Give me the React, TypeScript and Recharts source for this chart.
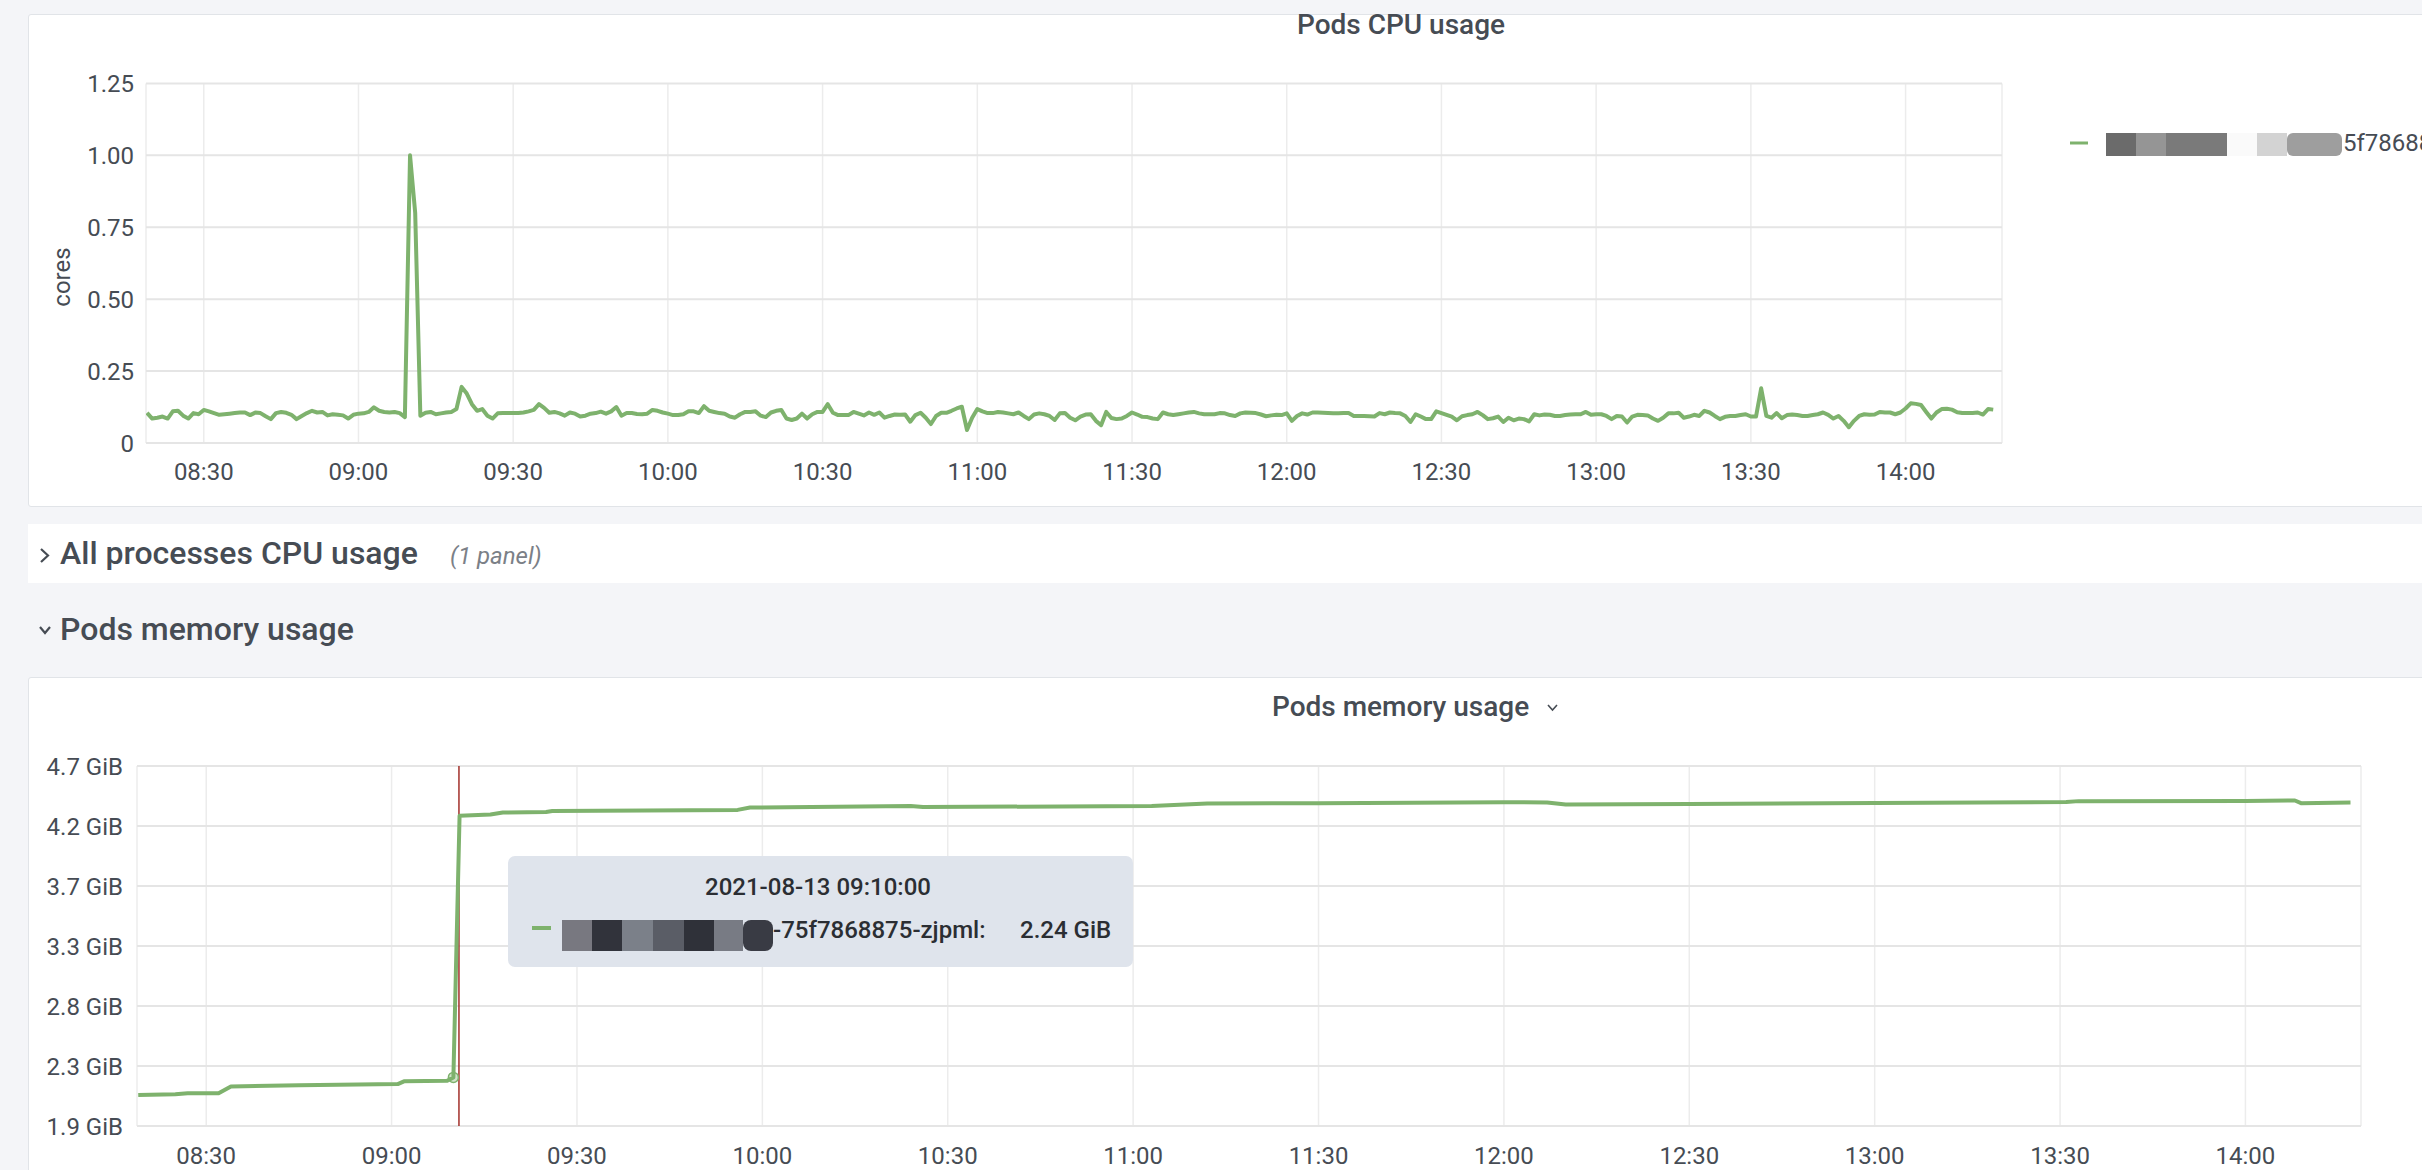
import React from 'react';
import { LineChart, Line, XAxis, YAxis, CartesianGrid, ReferenceLine, ReferenceDot } from 'recharts';

// ---------- data ----------
const cpuStartTime = '08:19'; // one sample per minute from here
const cpuCores = [
  0.105, 0.085, 0.088, 0.092, 0.085, 0.110, 0.112, 0.095, 0.085, 0.104,
  0.100, 0.115, 0.110, 0.104, 0.098, 0.100, 0.102, 0.104, 0.106, 0.106,
  0.097, 0.106, 0.104, 0.093, 0.083, 0.104, 0.108, 0.105, 0.098, 0.083,
  0.094, 0.104, 0.112, 0.106, 0.108, 0.096, 0.100, 0.098, 0.096, 0.085,
  0.098, 0.102, 0.103, 0.108, 0.124, 0.112, 0.108, 0.106, 0.108, 0.104,
  0.090, 1.000, 0.800, 0.095, 0.105, 0.108, 0.100, 0.103, 0.106, 0.108,
  0.118, 0.195, 0.172, 0.135, 0.112, 0.118, 0.095, 0.085, 0.103, 0.104,
  0.104, 0.104, 0.104, 0.106, 0.110, 0.115, 0.135, 0.122, 0.105, 0.108,
  0.103, 0.095, 0.106, 0.102, 0.092, 0.095, 0.102, 0.104, 0.109, 0.102,
  0.110, 0.125, 0.095, 0.104, 0.104, 0.101, 0.100, 0.102, 0.115, 0.112,
  0.106, 0.102, 0.097, 0.097, 0.100, 0.110, 0.110, 0.104, 0.128, 0.112,
  0.108, 0.104, 0.102, 0.092, 0.088, 0.100, 0.108, 0.108, 0.110, 0.095,
  0.090, 0.106, 0.112, 0.115, 0.085, 0.080, 0.085, 0.102, 0.085, 0.100,
  0.108, 0.108, 0.135, 0.105, 0.097, 0.097, 0.097, 0.108, 0.102, 0.096,
  0.106, 0.098, 0.106, 0.088, 0.094, 0.099, 0.098, 0.099, 0.074, 0.097,
  0.105, 0.088, 0.066, 0.094, 0.105, 0.105, 0.112, 0.120, 0.126, 0.045,
  0.088, 0.118, 0.110, 0.104, 0.104, 0.108, 0.106, 0.103, 0.100, 0.106,
  0.094, 0.083, 0.099, 0.103, 0.100, 0.094, 0.080, 0.103, 0.104, 0.088,
  0.079, 0.092, 0.099, 0.100, 0.077, 0.062, 0.108, 0.087, 0.083, 0.085,
  0.094, 0.106, 0.099, 0.091, 0.090, 0.085, 0.083, 0.106, 0.100, 0.097,
  0.100, 0.103, 0.106, 0.108, 0.103, 0.100, 0.100, 0.100, 0.104, 0.103,
  0.097, 0.094, 0.103, 0.106, 0.105, 0.104, 0.099, 0.093, 0.096, 0.098,
  0.097, 0.103, 0.077, 0.094, 0.103, 0.099, 0.106, 0.106, 0.105, 0.104,
  0.103, 0.103, 0.104, 0.104, 0.094, 0.094, 0.094, 0.093, 0.092, 0.104,
  0.100, 0.106, 0.104, 0.103, 0.094, 0.073, 0.100, 0.092, 0.083, 0.083,
  0.110, 0.104, 0.098, 0.092, 0.079, 0.093, 0.097, 0.100, 0.108, 0.097,
  0.083, 0.086, 0.092, 0.073, 0.088, 0.079, 0.085, 0.083, 0.075, 0.100,
  0.096, 0.099, 0.098, 0.094, 0.094, 0.097, 0.099, 0.100, 0.100, 0.108,
  0.098, 0.100, 0.100, 0.094, 0.083, 0.094, 0.092, 0.071, 0.092, 0.098,
  0.097, 0.096, 0.085, 0.077, 0.088, 0.103, 0.103, 0.105, 0.088, 0.092,
  0.098, 0.094, 0.112, 0.106, 0.094, 0.083, 0.091, 0.094, 0.094, 0.097,
  0.100, 0.092, 0.092, 0.190, 0.094, 0.088, 0.104, 0.086, 0.097, 0.099,
  0.097, 0.094, 0.094, 0.097, 0.100, 0.106, 0.098, 0.085, 0.094, 0.077,
  0.055, 0.077, 0.094, 0.100, 0.098, 0.099, 0.108, 0.106, 0.106, 0.100,
  0.106, 0.120, 0.138, 0.136, 0.132, 0.108, 0.085, 0.106, 0.118, 0.119,
  0.116, 0.107, 0.104, 0.104, 0.104, 0.106, 0.099, 0.118, 0.116,
];
const cpuYTicks = [0, 0.25, 0.5, 0.75, 1, 1.25];
const timeTicks = ['08:30', '09:00', '09:30', '10:00', '10:30', '11:00', '11:30', '12:00', '12:30', '13:00', '13:30', '14:00'];

const memTimes = [
  '08:19', '08:25', '08:27', '08:32', '08:34', '08:45', '09:01', '09:02', '09:09', '09:10',
  '09:11', '09:16', '09:18', '09:25', '09:26', '09:56', '09:58', '10:24', '10:26', '11:03',
  '11:12', '11:30', '12:00', '12:07', '12:10', '12:30', '13:00', '13:31', '13:33', '14:00',
  '14:08', '14:09', '14:17',
];
const memGiB = [
  2.103, 2.110, 2.116, 2.116, 2.170, 2.178, 2.188, 2.209, 2.214, 2.24,
  4.270, 4.280, 4.296, 4.300, 4.307, 4.316, 4.334, 4.346, 4.338, 4.346,
  4.366, 4.368, 4.376, 4.374, 4.358, 4.362, 4.370, 4.377, 4.384, 4.385,
  4.389, 4.368, 4.373,
];
const memTickBytes = [2e9, 2.5e9, 3e9, 3.5e9, 4e9, 4.5e9, 5e9];

const hoverDate = '2021-08-13';
const hoverTime = '09:10';
const tooltipSeries = '-75f7868875-zjpml:';
const legendSeries = '5f7868875-zjpml';
const cpuTitle = 'Pods CPU usage';
const memTitle = 'Pods memory usage';
const row1Title = 'All processes CPU usage';
const row1Note = '(1 panel)';
const row2Title = 'Pods memory usage';
const cpuUnit = 'cores';

// ---------- helpers ----------
const GiB = 1024 * 1024 * 1024;
const toMin = (s: string) => {
  const [h, m] = s.split(':').map(Number);
  return h * 60 + m;
};
const fmtTime = (m: number) => {
  const h = Math.floor(m / 60);
  const mm = Math.round(m - h * 60);
  return `${String(h).padStart(2, '0')}:${String(mm).padStart(2, '0')}`;
};

const cpuData = cpuCores.map((v, i) => ({ t: toMin(cpuStartTime) + i, v }));
const memData = memTimes.map((s, i) => ({ t: toMin(s), v: memGiB[i] }));
const xTicks = timeTicks.map(toMin);
const memTicks = memTickBytes.map((b) => b / GiB);
const xDomain: [number, number] = [498.8, 858.7];
const hoverMin = toMin(hoverTime);
const hoverPoint = memData.find((d) => d.t === hoverMin)!;
const cursorMin = hoverMin + 0.9; // mouse position of the crosshair

const FONT = 'Roboto, "Helvetica Neue", Arial, sans-serif';
const TEXT = '#464c54';
const GREEN = '#7eb26d';
const tickStyle = { fill: TEXT, fontSize: 24, fontFamily: FONT };

const legendBlocks = [
  { x: 2106, w: 30, c: '#6b6b6b' },
  { x: 2136, w: 30, c: '#959595' },
  { x: 2166, w: 61, c: '#7a7a7a' },
  { x: 2227, w: 30, c: '#fafafa' },
  { x: 2257, w: 30, c: '#d3d3d3' },
  { x: 2287, w: 55, c: '#9e9e9e' },
];
const tipBlocks = [
  { x: 562, w: 30, c: '#787880' },
  { x: 592, w: 30, c: '#31333b' },
  { x: 622, w: 31, c: '#7b8089' },
  { x: 653, w: 31, c: '#5a5d66' },
  { x: 684, w: 30, c: '#2f3139' },
  { x: 714, w: 29, c: '#787b84' },
  { x: 743, w: 30, c: '#393b44' },
];

export default function App() {
  return (
    <div
      style={{
        position: 'absolute',
        left: 0,
        top: 0,
        width: 2422,
        height: 1170,
        overflow: 'hidden',
        background: '#f4f5f8',
        fontFamily: FONT,
      }}
    >
      {/* panels / rows backgrounds */}
      <div style={{ position: 'absolute', left: 28, top: 14, width: 2440, height: 491, background: '#fff', border: '1px solid #e1e4e8', borderRadius: 3 }} />
      <div style={{ position: 'absolute', left: 28, top: 524, width: 2440, height: 59, background: '#fff' }} />
      <div style={{ position: 'absolute', left: 28, top: 677, width: 2440, height: 520, background: '#fff', border: '1px solid #e1e4e8', borderRadius: 3 }} />

      {/* CPU chart */}
      <div style={{ position: 'absolute', left: 0, top: 0 }}>
        <LineChart width={2422} height={520} data={cpuData} margin={{ top: 83.4, right: 420, bottom: 37, left: 46 }}>
          <CartesianGrid horizontal={false} vertical stroke="#ececec" strokeWidth={1.5} />
          <CartesianGrid horizontal vertical={false} stroke="#e5e5e5" strokeWidth={2} />
          <XAxis
            dataKey="t"
            type="number"
            domain={xDomain}
            allowDataOverflow
            ticks={xTicks}
            interval={0}
            tickFormatter={fmtTime}
            axisLine={false}
            tickLine={false}
            tickSize={0}
            tickMargin={20}
            height={40}
            tick={tickStyle}
          />
          <YAxis
            type="number"
            domain={[0, 1.25]}
            ticks={cpuYTicks}
            interval={0}
            tickFormatter={(v: number) => (v === 0 ? '0' : v.toFixed(2))}
            axisLine={false}
            tickLine={false}
            tickSize={0}
            tickMargin={12}
            width={100}
            tick={tickStyle}
          />
          <Line dataKey="v" type="linear" stroke={GREEN} strokeWidth={4} strokeLinejoin="round" dot={false} isAnimationActive={false} />
        </LineChart>
      </div>

      {/* Memory chart */}
      <div style={{ position: 'absolute', left: 0, top: 660 }}>
        <LineChart width={2422} height={510} data={memData} margin={{ top: 106, right: 61, bottom: 0, left: 37 }}>
          <CartesianGrid horizontal={false} vertical stroke="#ececec" strokeWidth={1.5} />
          <CartesianGrid horizontal vertical={false} stroke="#e5e5e5" strokeWidth={2} />
          <XAxis
            dataKey="t"
            type="number"
            domain={xDomain}
            allowDataOverflow
            ticks={xTicks}
            interval={0}
            tickFormatter={fmtTime}
            axisLine={false}
            tickLine={false}
            tickSize={0}
            tickMargin={21}
            height={44}
            tick={tickStyle}
          />
          <YAxis
            type="number"
            domain={[memTicks[0], memTicks[memTicks.length - 1]]}
            allowDataOverflow
            ticks={memTicks}
            interval={0}
            tickFormatter={(v: number) => `${v.toFixed(1)} GiB`}
            axisLine={false}
            tickLine={false}
            tickSize={0}
            tickMargin={14}
            width={100}
            tick={tickStyle}
          />
          <ReferenceLine x={cursorMin} stroke="#a3302a" strokeWidth={1.5} />
          <Line dataKey="v" type="linear" stroke={GREEN} strokeWidth={4} strokeLinejoin="round" dot={false} isAnimationActive={false} />
          <ReferenceDot x={hoverPoint.t} y={hoverPoint.v} r={5} fill="rgba(126,178,109,0.35)" stroke={GREEN} strokeWidth={1.5} />
        </LineChart>
      </div>

      {/* overlay texts & decorations */}
      <svg width={2422} height={1170} style={{ position: 'absolute', left: 0, top: 0, pointerEvents: 'none' }} fontFamily={FONT}>
        {/* CPU panel title */}
        <text x={1401} y={34} textAnchor="middle" fontSize={28} fontWeight={500} fill={TEXT}>{cpuTitle}</text>
        {/* y axis unit */}
        <text x={70} y={277} transform="rotate(-90, 70, 277)" textAnchor="middle" fontSize={24} fill={TEXT}>{cpuUnit}</text>
        {/* legend */}
        <line x1={2070} x2={2088} y1={143} y2={143} stroke={GREEN} strokeWidth={3} />
        {legendBlocks.map((b, i) => (
          <rect key={i} x={b.x} y={133} width={b.w} height={23} fill={b.c} rx={i === legendBlocks.length - 1 ? 6 : 0} />
        ))}
        <text x={2343} y={151} fontSize={24} fill={TEXT}>{legendSeries}</text>

        {/* row 1 */}
        <polyline points="41,549 48,555.5 41,562" fill="none" stroke={TEXT} strokeWidth={2.2} />
        <text x={60} y={564} fontSize={32} fontWeight={500} fill={TEXT}>{row1Title}</text>
        <text x={450} y={564} fontSize={24} fontStyle="italic" fill="#7b8087">{row1Note}</text>
        {/* row 2 */}
        <polyline points="40,627 45,633 50,627" fill="none" stroke={TEXT} strokeWidth={2.2} />
        <text x={60} y={640} fontSize={32} fontWeight={500} fill={TEXT}>{row2Title}</text>

        {/* memory panel title */}
        <text x={1272} y={716} fontSize={28} fontWeight={500} fill={TEXT}>{memTitle}</text>
        <polyline points="1548,705 1552.5,710 1557,705" fill="none" stroke={TEXT} strokeWidth={1.6} />

        {/* tooltip */}
        <rect x={508} y={856} width={625} height={111} rx={7} fill="#dfe4ec" />
        <text x={818} y={895} textAnchor="middle" fontSize={24} fontWeight={500} fill="#2b2e33">{`${hoverDate} ${hoverTime}:00`}</text>
        <rect x={532} y={926} width={19} height={4} fill={GREEN} />
        {tipBlocks.map((b, i) => (
          <rect key={i} x={b.x} y={920} width={b.w} height={31} fill={b.c} rx={i === tipBlocks.length - 1 ? 8 : 0} />
        ))}
        <text x={773} y={938} fontSize={24} fontWeight={500} fill="#2b2e33">{tooltipSeries}</text>
        <text x={1020} y={938} fontSize={24} fontWeight={500} fill="#2b2e33">{`${hoverPoint.v.toFixed(2)} GiB`}</text>
      </svg>
    </div>
  );
}
